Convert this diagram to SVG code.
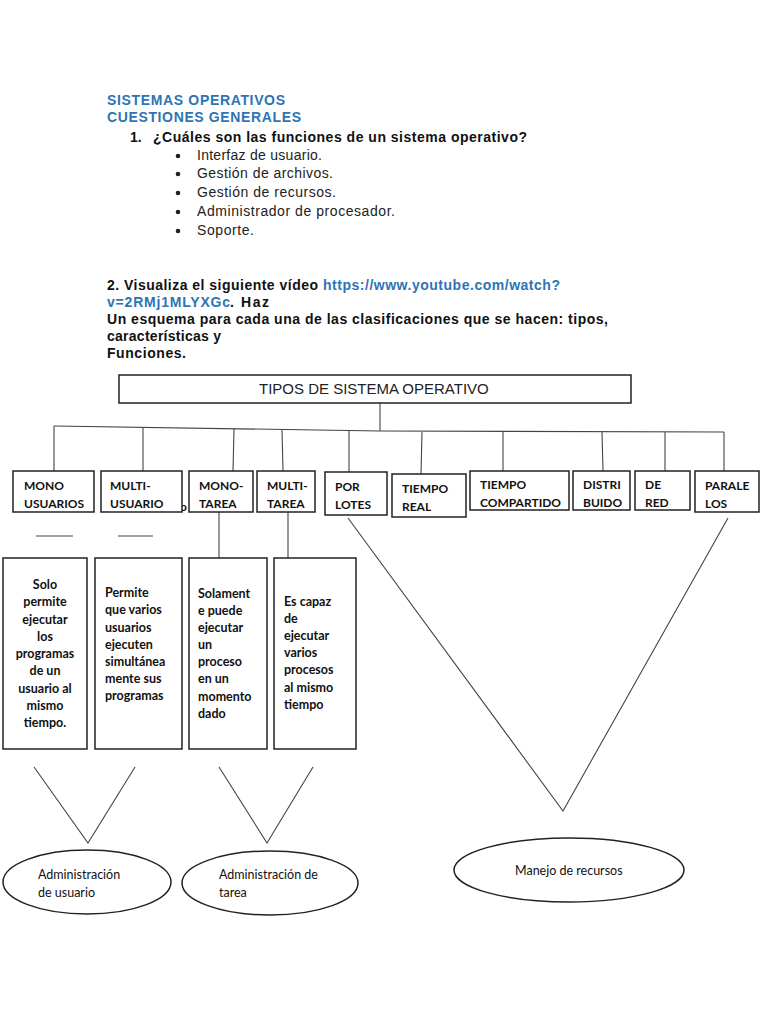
<svg xmlns="http://www.w3.org/2000/svg" width="768" height="1024" viewBox="0 0 768 1024">
<style>
.blue{fill:#2E74B5;font-family:"Liberation Sans",Arial,sans-serif;font-weight:bold;font-size:14px}
.q{fill:#111;font-family:"Liberation Sans",Arial,sans-serif;font-weight:bold;font-size:14px}
.b{fill:#222;font-family:"Liberation Sans",Arial,sans-serif;font-size:14px}
.box{fill:#fff;stroke:#222;stroke-width:1.5}
.lbl{fill:#111;font-family:Lato,"Open Sans",sans-serif;font-weight:bold;font-size:12px}
.desc{fill:#111;font-family:Lato,"Open Sans",sans-serif;font-weight:bold;font-size:12.5px}
.ell{fill:#fff;stroke:#222;stroke-width:1.5}
.etx{fill:#111;font-family:Lato,"Open Sans",sans-serif;font-size:12.5px}
.ln{stroke:#444;stroke-width:1.1;fill:none}
</style>
<rect width="768" height="1024" fill="#fff"/>
<g id="header">
<text class="blue" x="107" y="105" textLength="178" lengthAdjust="spacing">SISTEMAS OPERATIVOS</text>
<text class="blue" x="107" y="122" textLength="194" lengthAdjust="spacing">CUESTIONES GENERALES</text>
<text class="q" x="130" y="142">1.</text>
<text class="q" x="153" y="142" textLength="374" lengthAdjust="spacing">¿Cuáles son las funciones de un sistema operativo?</text>
<g class="b">
<circle cx="178" cy="156" r="2.3" fill="#222"/>
<circle cx="178" cy="174" r="2.3" fill="#222"/>
<circle cx="178" cy="193" r="2.3" fill="#222"/>
<circle cx="178" cy="212" r="2.3" fill="#222"/>
<circle cx="178" cy="231" r="2.3" fill="#222"/>
<text x="197" y="160" textLength="125" lengthAdjust="spacing">Interfaz de usuario.</text>
<text x="197" y="178" textLength="136" lengthAdjust="spacing">Gestión de archivos.</text>
<text x="197" y="197" textLength="139" lengthAdjust="spacing">Gestión de recursos.</text>
<text x="197" y="216" textLength="198" lengthAdjust="spacing">Administrador de procesador.</text>
<text x="197" y="235" textLength="57" lengthAdjust="spacing">Soporte.</text>
</g>
<text class="q" x="107" y="290" textLength="211" lengthAdjust="spacing">2. Visualiza el siguiente vídeo</text>
<text class="blue" x="323" y="290" textLength="237" lengthAdjust="spacing">https://www.youtube.com/watch?</text>
<text class="blue" x="107" y="307" textLength="123" lengthAdjust="spacing">v=2RMj1MLYXGc</text>
<text class="q" x="230" y="307" textLength="39" lengthAdjust="spacing">. Haz</text>
<text class="q" x="107" y="324" textLength="501" lengthAdjust="spacing">Un esquema para cada una de las clasificaciones que se hacen: tipos,</text>
<text class="q" x="107" y="341" textLength="114" lengthAdjust="spacing">características y</text>
<text class="q" x="107" y="358" textLength="79" lengthAdjust="spacing">Funciones.</text>
</g>
<g id="connectors">
<line class="ln" x1="380" y1="403" x2="380" y2="431"/>
<polyline class="ln" points="54,426 380,431 724,432"/>
<line class="ln" x1="54" y1="426" x2="54" y2="471"/>
<line class="ln" x1="143" y1="428" x2="143" y2="471"/>
<line class="ln" x1="234" y1="429" x2="233" y2="471"/>
<line class="ln" x1="282" y1="430" x2="283" y2="471"/>
<line class="ln" x1="349" y1="431" x2="349" y2="472"/>
<line class="ln" x1="422" y1="432" x2="421" y2="474"/>
<line class="ln" x1="503" y1="432" x2="503" y2="471"/>
<line class="ln" x1="602" y1="432" x2="603" y2="471"/>
<line class="ln" x1="665" y1="432" x2="665" y2="471"/>
<line class="ln" x1="724" y1="432" x2="724" y2="471"/>
<line class="ln" x1="36" y1="536" x2="73" y2="536"/>
<line class="ln" x1="118" y1="536" x2="153" y2="536"/>
<line class="ln" x1="219" y1="512" x2="219" y2="558"/>
<line class="ln" x1="288" y1="512" x2="288" y2="558"/>
<polyline class="ln" points="34,767 88,843 135,767"/>
<polyline class="ln" points="219,767 267,843 313,767"/>
<polyline class="ln" points="348,518 563,811 728,518"/>
</g>
<g id="root">
<rect class="box" x="119" y="375" width="512" height="28"/>
<text x="259" y="394" fill="#222" font-family="'Liberation Sans',Arial,sans-serif" font-size="15">TIPOS DE SISTEMA OPERATIVO</text>
</g>
<text x="180" y="511" class="lbl" font-weight="normal">o</text>
<g id="mono-usuarios"><rect class="box" x="13" y="471" width="81" height="41"/><text class="lbl" x="24" y="490">MONO</text><text class="lbl" x="24" y="508">USUARIOS</text></g>
<g id="multi-usuario"><rect class="box" x="101" y="471" width="81" height="41"/><text class="lbl" x="110" y="490">MULTI-</text><text class="lbl" x="110" y="508">USUARIO</text></g>
<g id="mono-tarea"><rect class="box" x="189" y="471" width="64" height="41"/><text class="lbl" x="199" y="490">MONO-</text><text class="lbl" x="199" y="508">TAREA</text></g>
<g id="multi-tarea"><rect class="box" x="257" y="471" width="58" height="41"/><text class="lbl" x="267" y="490">MULTI-</text><text class="lbl" x="267" y="508">TAREA</text></g>
<g id="por-lotes"><rect class="box" x="325" y="472" width="62" height="43"/><text class="lbl" x="335" y="491">POR</text><text class="lbl" x="335" y="509">LOTES</text></g>
<g id="tiempo-real"><rect class="box" x="392" y="474" width="74" height="43"/><text class="lbl" x="402" y="493">TIEMPO</text><text class="lbl" x="402" y="511">REAL</text></g>
<g id="tiempo-compartido"><rect class="box" x="470" y="471" width="99" height="39"/><text class="lbl" x="480" y="489">TIEMPO</text><text class="lbl" x="480" y="507">COMPARTIDO</text></g>
<g id="distribuido"><rect class="box" x="573" y="471" width="57" height="39"/><text class="lbl" x="583" y="489">DISTRI</text><text class="lbl" x="583" y="507">BUIDO</text></g>
<g id="de-red"><rect class="box" x="635" y="471" width="55" height="39"/><text class="lbl" x="645" y="489">DE</text><text class="lbl" x="645" y="507">RED</text></g>
<g id="paralelos"><rect class="box" x="695" y="471" width="64" height="41"/><text class="lbl" x="705" y="490">PARALE</text><text class="lbl" x="705" y="508">LOS</text></g>
<g id="desc-mono-usuarios"><rect class="box" x="3" y="558" width="84" height="191"/>
<g class="desc" text-anchor="middle"><text x="45" y="589">Solo</text><text x="45" y="606">permite</text><text x="45" y="624">ejecutar</text><text x="45" y="641">los</text><text x="45" y="658">programas</text><text x="45" y="675">de un</text><text x="45" y="693">usuario al</text><text x="45" y="710">mismo</text><text x="45" y="727">tiempo.</text></g></g>
<g id="desc-multi-usuario"><rect class="box" x="95" y="558" width="87" height="191"/>
<g class="desc"><text x="105" y="597">Permite</text><text x="105" y="614">que varios</text><text x="105" y="632">usuarios</text><text x="105" y="649">ejecuten</text><text x="105" y="666">simultánea</text><text x="105" y="683">mente sus</text><text x="105" y="700">programas</text></g></g>
<g id="desc-mono-tarea"><rect class="box" x="189" y="558" width="78" height="191"/>
<g class="desc"><text x="198" y="598">Solament</text><text x="198" y="615">e puede</text><text x="198" y="632">ejecutar</text><text x="198" y="649">un</text><text x="198" y="666">proceso</text><text x="198" y="683">en un</text><text x="198" y="701">momento</text><text x="198" y="718">dado</text></g></g>
<g id="desc-multi-tarea"><rect class="box" x="274" y="558" width="82" height="191"/>
<g class="desc"><text x="284" y="606">Es capaz</text><text x="284" y="623">de</text><text x="284" y="640">ejecutar</text><text x="284" y="657">varios</text><text x="284" y="674">procesos</text><text x="284" y="692">al mismo</text><text x="284" y="709">tiempo</text></g></g>
<g id="adm-usuario"><ellipse class="ell" cx="87" cy="882" rx="84" ry="32"/><text class="etx" x="38" y="879">Administración</text><text class="etx" x="38" y="897">de usuario</text></g>
<g id="adm-tarea"><ellipse class="ell" cx="270" cy="883" rx="88" ry="32"/><text class="etx" x="219" y="879">Administración de</text><text class="etx" x="219" y="897">tarea</text></g>
<g id="manejo-recursos"><ellipse class="ell" cx="569" cy="870" rx="115" ry="32"/><text class="etx" x="515" y="875">Manejo de recursos</text></g>
</svg>
